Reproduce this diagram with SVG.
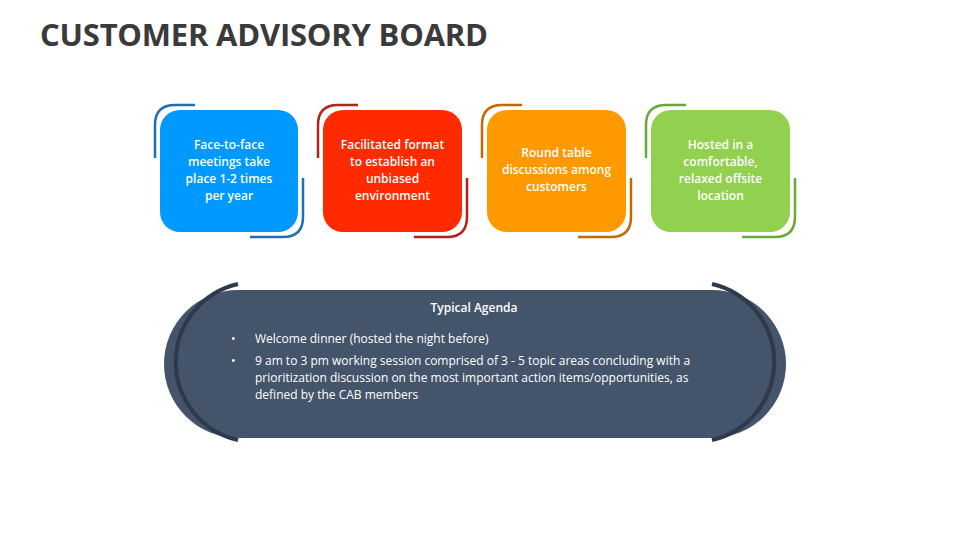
<svg xmlns="http://www.w3.org/2000/svg" width="960" height="540" viewBox="0 0 960 540">
<style>
.t{font-family:"Open Sans","Liberation Sans",sans-serif;font-weight:600;font-size:12px;fill:#fff;text-anchor:middle}
.a{fill:none;stroke-width:2.5}
.b{font-family:"Open Sans","Liberation Sans",sans-serif;font-size:12px;fill:#fff}
</style>
<rect width="960" height="540" fill="#fff"/>
<text x="40" y="46" font-family="Open Sans, Liberation Sans, sans-serif" font-weight="700" font-size="31" fill="#3a3a3a" textLength="448">CUSTOMER ADVISORY BOARD</text>
<g id="n1">
<path class="a" stroke="#1f6fb5" d="M155,158 V125 Q155,105 175,105 H195"/>
<path class="a" stroke="#1f6fb5" d="M303,178 V217 Q303,237 283,237 H250"/>
<rect x="160" y="110" width="138" height="122" rx="20" fill="#0099ff"/>
<text class="t"><tspan x="229" y="149">Face-to-face</tspan><tspan x="229" y="166">meetings take</tspan><tspan x="229" y="183">place 1-2 times</tspan><tspan x="229" y="200">per year</tspan></text>
</g>
<g id="n2">
<path class="a" stroke="#b0241a" d="M318,158 V125 Q318,105 338,105 H358"/>
<path class="a" stroke="#b0241a" d="M467,178 V217 Q467,237 447,237 H414"/>
<rect x="323" y="110" width="139" height="122" rx="20" fill="#ff2a00"/>
<text class="t"><tspan x="392.5" y="149">Facilitated format</tspan><tspan x="392.5" y="166">to establish an</tspan><tspan x="392.5" y="183">unbiased</tspan><tspan x="392.5" y="200">environment</tspan></text>
</g>
<g id="n3">
<path class="a" stroke="#c06a00" d="M482,158 V125 Q482,105 502,105 H522"/>
<path class="a" stroke="#c06a00" d="M631,178 V217 Q631,237 611,237 H578"/>
<rect x="487" y="110" width="139" height="122" rx="20" fill="#ff9900"/>
<text class="t"><tspan x="556.5" y="157">Round table</tspan><tspan x="556.5" y="174">discussions among</tspan><tspan x="556.5" y="191">customers</tspan></text>
</g>
<g id="n4">
<path class="a" stroke="#6aa838" d="M646,158 V125 Q646,105 666,105 H686"/>
<path class="a" stroke="#6aa838" d="M795,178 V217 Q795,237 775,237 H742"/>
<rect x="651" y="110" width="139" height="122" rx="20" fill="#92d050"/>
<text class="t"><tspan x="720.5" y="149">Hosted in a</tspan><tspan x="720.5" y="166">comfortable,</tspan><tspan x="720.5" y="183">relaxed offsite</tspan><tspan x="720.5" y="200">location</tspan></text>
</g>
<g id="agenda">
<path d="M238,290 H712 A74,74 0 0 1 712,438 H238 A74,74 0 0 1 238,290 Z" fill="#44546a"/>
<path fill="none" stroke="#2e3a4b" stroke-width="4" d="M238,284 A80,80 0 0 0 238,440"/>
<path fill="none" stroke="#2e3a4b" stroke-width="4" d="M712,284 A80,80 0 0 1 712,440"/>
<text class="t" x="474" y="312" font-weight="700">Typical Agenda</text>
<text class="b"><tspan x="231" y="343">•</tspan><tspan x="255" y="343">Welcome dinner (hosted the night before)</tspan></text>
<text class="b"><tspan x="231" y="365">•</tspan><tspan x="255" y="365">9 am to 3 pm working session comprised of 3 - 5 topic areas concluding with a</tspan><tspan x="255" y="382">prioritization discussion on the most important action items/opportunities, as</tspan><tspan x="255" y="399">defined by the CAB members</tspan></text>
</g>
<g id="connectors"/>
</svg>
